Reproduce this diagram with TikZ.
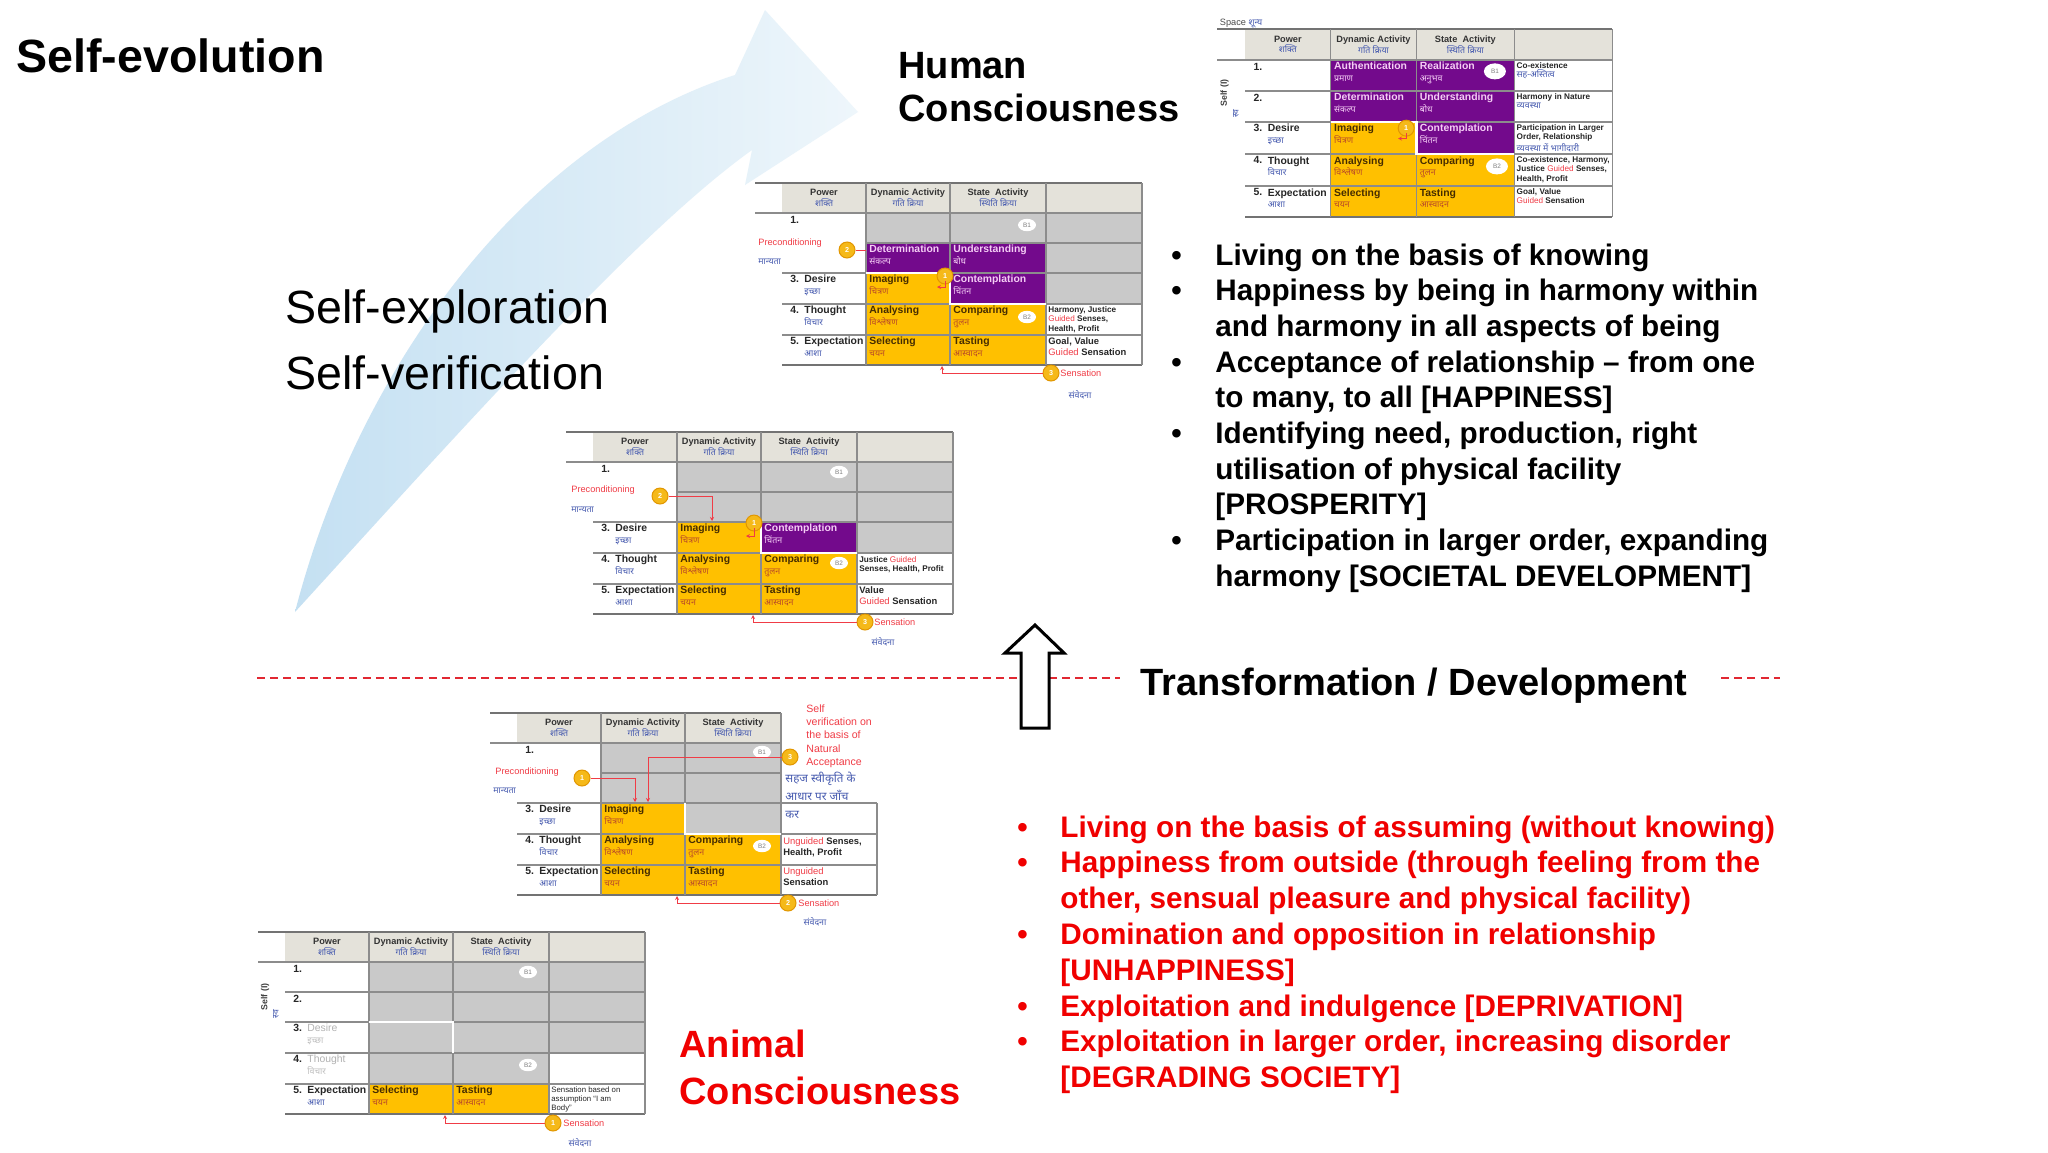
\documentclass[tikz,border=0pt]{standalone}
\usepackage{fontspec}
\setmainfont{Liberation Sans}
\newfontfamily\devf[Script=Devanagari]{Noto Sans}
\usetikzlibrary{arrows.meta,shapes.geometric}
\definecolor{hdrgray}{RGB}{228,226,218}
\definecolor{cgray}{RGB}{201,201,201}
\definecolor{purp}{RGB}{115,10,140}
\definecolor{gold}{RGB}{255,192,0}
\definecolor{ptext}{RGB}{245,205,245}
\definecolor{ytext}{RGB}{70,45,0}
\definecolor{yhin}{RGB}{185,75,40}
\definecolor{hblue}{RGB}{70,90,175}
\definecolor{lred}{RGB}{240,60,70}
\definecolor{cfill}{RGB}{245,185,25}
\definecolor{cedge}{RGB}{225,150,0}
\definecolor{gline}{RGB}{140,140,140}
\definecolor{dred}{RGB}{225,40,50}
\definecolor{bred}{RGB}{240,0,0}
\definecolor{arrowblue}{RGB}{196,224,242}
\definecolor{arrowpale}{RGB}{238,246,251}
\newcommand\hinf{\devf\mdseries\fontsize{4.4}{5.2}\selectfont}
\tikzset{
 gl/.style={draw=gline, line width=0.6pt},
 gltop/.style={draw=black!55, line width=0.9pt},
 wl/.style={draw=white, line width=1.3pt},
 cellt/.style={anchor=north west, inner sep=0pt, align=left, font=\fontsize{5.2}{5.9}\selectfont\bfseries},
 hdt/.style={inner sep=0pt, align=center, font=\fontsize{4.6}{5.3}\selectfont\bfseries, text=black!80},
 c4t/.style={anchor=north west, inner sep=0pt, align=left, font=\fontsize{4.1}{4.7}\selectfont\bfseries, text=black!85},
 c4big/.style={c4t, font=\fontsize{4.7}{5.6}\selectfont\bfseries},
 smallred/.style={inner sep=0pt, font=\fontsize{4.6}{5.4}\selectfont, text=lred},
 hsmall/.style={inner sep=0pt, font=\hinf, text=hblue},
 numcirc/.style={circle, fill=cfill, draw=cedge, line width=0.5pt, minimum size=8pt, inner sep=0pt, font=\fontsize{3.6}{3.6}\selectfont\bfseries, text=white},
 ovalb/.style={ellipse, fill=white, minimum width=9pt, minimum height=6.2pt, inner sep=0pt, font=\fontsize{3.2}{3.2}\selectfont, text=gray},
 rl/.style={draw=lred, line width=0.45pt},
 rla/.style={rl, -{Stealth[length=2pt,width=2pt]}},
 bigb/.style={anchor=base west, inner sep=0pt, font=\fontsize{14.85}{17}\selectfont\bfseries},
}
\newcommand\pcell[5]{\node[cellt,text=ptext] (#1) at (#2,#3) {#4\\{\hinf #5}};}
\newcommand\ycell[5]{\node[cellt,text=ytext] (#1) at (#2,#3) {#4\\{\hinf\color{yhin}#5}};}
\newcommand\rowlab[5]{\node[cellt,text=black!85] (#1n) at (8,#2) {#3};\node[cellt,text=black!85] (#1w) at (22,#2) {#4\\{\hinf\color{hblue}#5}};}
\newcommand\tbhead[1]{%
 \node[hdt] (#1p) at (42,15) {Power\\{\hinf\color{hblue}शक्ति}};
 \node[hdt] (#1d) at (126,15) {Dynamic Activity\\{\hinf\color{hblue}गति क्रिया}};
 \node[hdt] (#1s) at (216,15) {State\ \ Activity\\{\hinf\color{hblue}स्थिति क्रिया}};}
\newcommand\tbgrid[1]{%
 \draw[gltop] (-27,0) -- (360,0);
 \draw[gl] (-27,30) -- (360,30);
 \draw[gl] (#1,60) -- (360,60);
 \foreach \yy in {90,121,152}{\draw[gl] (0,\yy) -- (360,\yy);}
 \draw[gltop] (0,182) -- (360,182);
 \foreach \xx in {84,168,264,360}{\draw[gl] (\xx,0) -- (\xx,182);}}
\newcommand\bov[4]{\node[ovalb] (#1) at (#2,#3) {#4};}
\newcommand\numc[4]{\node[numcirc] (#1) at (#2,#3) {#4};}
\begin{document}
\begin{tikzpicture}[x=0.5pt,y=-0.5pt]
\useasboundingbox[fill=white] (0,0) rectangle (2048,1152);
% big curved arrow
\shade[left color=arrowblue, right color=arrowpale]
 (295,612) .. controls (360,360) and (530,140) .. (735,75)
 -- (765,10) -- (858,112) -- (745,185) -- (752,150)
 .. controls (640,230) and (470,420) .. (295,612) -- cycle;
% titles
\node[anchor=base west, inner sep=0pt, font=\fontsize{23.3}{28}\selectfont\bfseries] (title) at (16,72) {Self-evolution};
\node[anchor=base west, inner sep=0pt, font=\fontsize{19}{22}\selectfont\bfseries] (hum1) at (898,78) {Human};
\node[anchor=base west, inner sep=0pt, font=\fontsize{19}{22}\selectfont\bfseries] (hum2) at (898,121) {Consciousness};
\node[anchor=base west, inner sep=0pt, font=\fontsize{23.3}{28}\selectfont] (sexp) at (285,323) {Self-exploration};
\node[anchor=base west, inner sep=0pt, font=\fontsize{23.3}{28}\selectfont] (sver) at (285,389) {Self-verification};
\node[anchor=base west, inner sep=0pt, font=\fontsize{19}{22}\selectfont\bfseries, text=bred] (ani1) at (679,1057) {Animal};
\node[anchor=base west, inner sep=0pt, font=\fontsize{19}{22}\selectfont\bfseries, text=bred] (ani2) at (679,1104) {Consciousness};
% dashed line and hollow arrow
\draw[dred, line width=1pt, dash pattern=on 4pt off 2.6pt] (257,678) -- (1120,678);
\draw[dred, line width=1pt, dash pattern=on 4pt off 2.6pt] (1721,678) -- (1780,678);
\draw[black, line width=1.5pt, fill=white, line join=miter] (1021,728) -- (1021,653) -- (1005,653) -- (1035,625) -- (1064,653) -- (1049,653) -- (1049,728) -- cycle;
\node[anchor=base west, inner sep=0pt, font=\fontsize{19}{22}\selectfont\bfseries] (trans) at (1140,695) {Transformation / Development};
% black bullets
\foreach \k/\b/\t in {0/•/Living on the basis of knowing,
 1/•/Happiness by being in harmony within,
 2//and harmony in all aspects of being,
 3/•/Acceptance of relationship – from one,
 4//{to many, to all [HAPPINESS]},
 5/•/{Identifying need, production, right},
 6//utilisation of physical facility,
 7//[PROSPERITY],
 8/•/{Participation in larger order, expanding},
 9//harmony [SOCIETAL DEVELOPMENT]}{
 \node[bigb] (kb\k) at (1171,265+35.7*\k) {\b};
 \node[bigb] (kt\k) at (1215,265+35.7*\k) {\t};
}
% red bullets
\foreach \k/\b/\t in {0/•/Living on the basis of assuming (without knowing),
 1/•/Happiness from outside (through feeling from the,
 2//{other, sensual pleasure and physical facility)},
 3/•/Domination and opposition in relationship,
 4//[UNHAPPINESS],
 5/•/Exploitation and indulgence [DEPRIVATION],
 6/•/{Exploitation in larger order, increasing disorder},
 7//[DEGRADING SOCIETY]}{
 \node[bigb, text=bred] (rb\k) at (1017,837+35.8*\k) {\b};
 \node[bigb, text=bred] (rt\k) at (1060,837+35.8*\k) {\t};
}
% ---------- Table 1 (top right)
\begin{scope}[shift={(1245,29)},xscale=1.02,yscale=1.033]
 \fill[hdrgray] (0,0) rectangle (360,30);
 \fill[purp] (84,30) rectangle (264,90);
 \fill[gold] (84,90) rectangle (168,121);
 \fill[purp] (168,90) rectangle (264,121);
 \fill[gold] (84,121) rectangle (264,182);
 \tbgrid{0}
 \draw[wl] (84,90) -- (168,90) -- (168,121) -- (264,121);
 \tbhead{ta}
 \node[cellt,text=black!85] (tal1) at (8,33) {1.};
 \node[cellt,text=black!85] (tal2) at (8,63) {2.};
 \rowlab{tar3}{92}{3.}{Desire}{इच्छा}
 \rowlab{tar4}{123}{4.}{Thought}{विचार}
 \rowlab{tar5}{154}{5.}{Expectation}{आशा}
 \pcell{taaut}{87}{32}{Authentication}{प्रमाण}
 \pcell{tarea}{171}{32}{Realization}{अनुभव}
 \pcell{tadet}{87}{62}{Determination}{संकल्प}
 \pcell{taund}{171}{62}{Understanding}{बोध}
 \ycell{taima}{87}{92}{Imaging}{चित्रण}
 \pcell{tacon}{171}{92}{Contemplation}{चिंतन}
 \ycell{taana}{87}{123}{Analysing}{विश्लेषण}
 \ycell{tacom}{171}{123}{Comparing}{तुलन}
 \ycell{tasel}{87}{154}{Selecting}{चयन}
 \ycell{tatas}{171}{154}{Tasting}{आस्वादन}
 \node[c4t] (tah1) at (266,32) {Co-existence\\{\hinf\color{hblue}सह-अस्तित्व}};
 \node[c4t] (tah2) at (266,62) {Harmony in Nature\\{\hinf\color{hblue}व्यवस्था}};
 \node[c4t] (tah3) at (266,92) {Participation in Larger\\Order, Relationship\\{\hinf\color{hblue}व्यवस्था में भागीदारी}};
 \node[c4t] (tah4) at (266,123) {Co-existence, Harmony,\\Justice {\color{lred}\mdseries Guided} Senses,\\Health, Profit};
 \node[c4t] (tah5) at (266,154) {Goal, Value\\{\color{lred}\mdseries Guided} Sensation};
 \node[ovalb, minimum width=11pt, minimum height=8pt] (tab1) at (245,41) {B1};
 \node[ovalb, minimum width=11pt, minimum height=8pt] (tab2) at (247,133) {B2};
 \numc{tac1}{158}{96}{1}
 \draw[rla] (158,101) -- (158,106) -- (150,106);
 \node[anchor=south west, inner sep=0pt, font=\fontsize{4.6}{5}\selectfont, text=black!70] (taspace) at (-25,-1) {Space {\hinf\color{hblue}शून्य}};
 \node[rotate=90, inner sep=0pt, font=\fontsize{4.4}{5}\selectfont\bfseries, text=black!75] (taself) at (-20,62) {Self (I)};
 \node[rotate=90, inner sep=0pt, font=\hinf, text=hblue] (taswa) at (-9,82) {स्व};
\end{scope}
% ---------- Table 2
\begin{scope}[shift={(782,183)}]
 \fill[hdrgray] (0,0) rectangle (360,30);
 \fill[cgray] (84,30) rectangle (360,60);
 \fill[purp] (84,60) rectangle (264,90);
 \fill[cgray] (264,60) rectangle (360,121);
 \fill[gold] (84,90) rectangle (168,121);
 \fill[purp] (168,90) rectangle (264,121);
 \fill[gold] (84,121) rectangle (264,182);
 \tbgrid{84}
 \draw[wl] (84,90) -- (168,90) -- (168,121) -- (264,121);
 \tbhead{tb}
 \node[cellt,text=black!85] (tbl1) at (8,33) {1.};
 \rowlab{tbr3}{92}{3.}{Desire}{इच्छा}
 \rowlab{tbr4}{123}{4.}{Thought}{विचार}
 \rowlab{tbr5}{154}{5.}{Expectation}{आशा}
 \pcell{tbdet}{87}{62}{Determination}{संकल्प}
 \pcell{tbund}{171}{62}{Understanding}{बोध}
 \ycell{tbima}{87}{92}{Imaging}{चित्रण}
 \pcell{tbcon}{171}{92}{Contemplation}{चिंतन}
 \ycell{tbana}{87}{123}{Analysing}{विश्लेषण}
 \ycell{tbcom}{171}{123}{Comparing}{तुलन}
 \ycell{tbsel}{87}{154}{Selecting}{चयन}
 \ycell{tbtas}{171}{154}{Tasting}{आस्वादन}
 \node[c4t] (tbh4) at (266,123) {Harmony, Justice\\{\color{lred}\mdseries Guided} Senses,\\Health, Profit};
 \node[c4big] (tbh5) at (266,154) {Goal, Value\\{\color{lred}\mdseries Guided} Sensation};
 \bov{tbb1}{245}{42}{B1}
 \bov{tbb2}{245}{134}{B2}
 \node[smallred, anchor=west] (tbpre) at (-24,60) {Preconditioning};
 \node[hsmall, anchor=west] (tbman) at (-24,79) {मान्यता};
 \numc{tbc2}{65}{67}{2}
 \draw[rl] (tbc2.east) -- (84,67);
 \numc{tbc1}{163}{93}{1}
 \draw[rla] (163,98) -- (163,104) -- (155,104);
 \numc{tbc3}{269}{190}{3}
 \node[smallred, anchor=west] (tbsen) at (278,190) {Sensation};
 \node[hsmall] (tbsv) at (298,212) {संवेदना};
 \draw[rla] (tbc3.west) -- (160,190) -- (160,183);
\end{scope}
% ---------- Table 3
\begin{scope}[shift={(593,432)}]
 \fill[hdrgray] (0,0) rectangle (360,30);
 \fill[cgray] (84,30) rectangle (360,90);
 \fill[gold] (84,90) rectangle (168,121);
 \fill[purp] (168,90) rectangle (264,121);
 \fill[cgray] (264,90) rectangle (360,121);
 \fill[gold] (84,121) rectangle (264,182);
 \tbgrid{84}
 \draw[wl] (168,90) -- (168,121) -- (264,121);
 \tbhead{tc}
 \node[cellt,text=black!85] (tcl1) at (8,33) {1.};
 \rowlab{tcr3}{92}{3.}{Desire}{इच्छा}
 \rowlab{tcr4}{123}{4.}{Thought}{विचार}
 \rowlab{tcr5}{154}{5.}{Expectation}{आशा}
 \ycell{tcima}{87}{92}{Imaging}{चित्रण}
 \pcell{tccon}{171}{92}{Contemplation}{चिंतन}
 \ycell{tcana}{87}{123}{Analysing}{विश्लेषण}
 \ycell{tccom}{171}{123}{Comparing}{तुलन}
 \ycell{tcsel}{87}{154}{Selecting}{चयन}
 \ycell{tctas}{171}{154}{Tasting}{आस्वादन}
 \node[c4t] (tch4) at (266,124) {Justice {\color{lred}\mdseries Guided}\\Senses, Health, Profit};
 \node[c4big] (tch5) at (266,154) {Value\\{\color{lred}\mdseries Guided} Sensation};
 \bov{tcb1}{246}{40}{B1}
 \bov{tcb2}{246}{131}{B2}
 \node[smallred, anchor=west] (tcpre) at (-22,58) {Preconditioning};
 \node[hsmall, anchor=west] (tcman) at (-22,78) {मान्यता};
 \numc{tcc2}{67}{64}{2}
 \draw[rla] (tcc2.east) -- (119,64) -- (119,89);
 \numc{tcc1}{161}{91}{1}
 \draw[rla] (161,96) -- (161,104) -- (153,104);
 \numc{tcc3}{272}{190}{3}
 \node[smallred, anchor=west] (tcsen) at (281,190) {Sensation};
 \node[hsmall] (tcsv) at (290,210) {संवेदना};
 \draw[rla] (tcc3.west) -- (160,190) -- (160,183);
\end{scope}
% ---------- Table 4
\begin{scope}[shift={(517,713)}]
 \fill[hdrgray] (0,0) rectangle (264,30);
 \fill[cgray] (84,30) rectangle (264,90);
 \fill[gold] (84,90) rectangle (168,121);
 \fill[cgray] (168,90) rectangle (264,121);
 \fill[gold] (84,121) rectangle (264,182);
 \draw[gltop] (-27,0) -- (264,0);
 \draw[gl] (-27,30) -- (264,30);
 \draw[gl] (84,60) -- (264,60);
 \draw[gl] (0,90) -- (360,90);
 \draw[gl] (0,121) -- (360,121);
 \draw[gl] (0,152) -- (360,152);
 \draw[gltop] (0,182) -- (360,182);
 \foreach \xx in {84,168,264}{\draw[gl] (\xx,0) -- (\xx,182);}
 \draw[gl] (360,90) -- (360,182);
 \draw[wl] (168,90) -- (168,121) -- (264,121);
 \tbhead{td}
 \node[cellt,text=black!85] (tdl1) at (8,33) {1.};
 \rowlab{tdr3}{92}{3.}{Desire}{इच्छा}
 \rowlab{tdr4}{123}{4.}{Thought}{विचार}
 \rowlab{tdr5}{154}{5.}{Expectation}{आशा}
 \ycell{tdima}{87}{92}{Imaging}{चित्रण}
 \ycell{tdana}{87}{123}{Analysing}{विश्लेषण}
 \ycell{tdcom}{171}{123}{Comparing}{तुलन}
 \ycell{tdsel}{87}{154}{Selecting}{चयन}
 \ycell{tdtas}{171}{154}{Tasting}{आस्वादन}
 \node[c4big] (tdh4) at (266,124) {{\color{lred}\mdseries Unguided} Senses,\\Health, Profit};
 \node[c4big] (tdh5) at (266,154) {{\color{lred}\mdseries Unguided}\\Sensation};
 \node[anchor=north west, inner sep=0pt, align=left, font=\fontsize{5.3}{6.7}\selectfont, text=lred] (tdself) at (289,-9) {Self\\verification on\\the basis of\\Natural\\Acceptance};
 \node[anchor=north west, inner sep=0pt, align=left, font=\devf\fontsize{5.8}{8.8}\selectfont, text=hblue] (tdsahaj) at (268,59) {सहज स्वीकृति के\\आधार पर जाँच\\कर};
 \bov{tdb1}{245}{39}{B1}
 \bov{tdb2}{245}{133}{B2}
 \numc{tdc3}{273}{44}{3}
 \draw[rla] (tdc3.west) -- (131,44) -- (131,89);
 \node[smallred, anchor=west] (tdpre) at (-22,59) {Preconditioning};
 \node[hsmall, anchor=west] (tdman) at (-24,78) {मान्यता};
 \numc{tdc1}{65}{65}{1}
 \draw[rla] (tdc1.east) -- (118,65) -- (118,89);
 \numc{tdc2}{271}{190}{2}
 \node[smallred, anchor=west] (tdsen) at (281,190) {Sensation};
 \node[hsmall] (tdsv) at (298,209) {संवेदना};
 \draw[rla] (tdc2.west) -- (160,190) -- (160,183);
\end{scope}
% ---------- Table 5
\begin{scope}[shift={(285,932)}]
 \fill[hdrgray] (0,0) rectangle (360,30);
 \fill[cgray] (84,30) rectangle (360,121);
 \fill[cgray] (84,121) rectangle (264,152);
 \fill[gold] (84,152) rectangle (264,182);
 \tbgrid{0}
 \draw[wl] (84,90) -- (168,90) -- (168,121);
 \tbhead{te}
 \node[cellt,text=black!85] (tel1) at (8,33) {1.};
 \node[cellt,text=black!85] (tel2) at (8,63) {2.};
 \node[cellt,text=black!85] (ter3n) at (8,92) {3.};
 \node[cellt,text=black!30,font=\fontsize{5.2}{5.9}\selectfont] (ter3w) at (22,92) {Desire\\{\hinf\color{black!25}इच्छा}};
 \node[cellt,text=black!85] (ter4n) at (8,123) {4.};
 \node[cellt,text=black!30,font=\fontsize{5.2}{5.9}\selectfont] (ter4w) at (22,123) {Thought\\{\hinf\color{black!25}विचार}};
 \rowlab{ter5}{154}{5.}{Expectation}{आशा}
 \ycell{tesel}{87}{154}{Selecting}{चयन}
 \ycell{tetas}{171}{154}{Tasting}{आस्वादन}
 \node[anchor=north west, inner sep=0pt, align=left, font=\fontsize{3.9}{4.6}\selectfont, text=black!85] (teh5) at (266,154) {Sensation based on\\assumption ``I am\\Body''};
 \bov{teb1}{243}{40}{B1}
 \bov{teb2}{243}{133}{B2}
 \node[rotate=90, inner sep=0pt, font=\fontsize{4.4}{5}\selectfont\bfseries, text=black!75] (teself) at (-20,65) {Self (I)};
 \node[rotate=90, inner sep=0pt, font=\hinf, text=hblue] (teswa) at (-9,82) {स्व};
 \numc{tec1}{268}{191}{1}
 \node[smallred, anchor=west] (tesen) at (278,191) {Sensation};
 \node[hsmall] (tesv) at (295,211) {संवेदना};
 \draw[rla] (tec1.west) -- (160,191) -- (160,183);
\end{scope}
\end{tikzpicture}
\end{document}
